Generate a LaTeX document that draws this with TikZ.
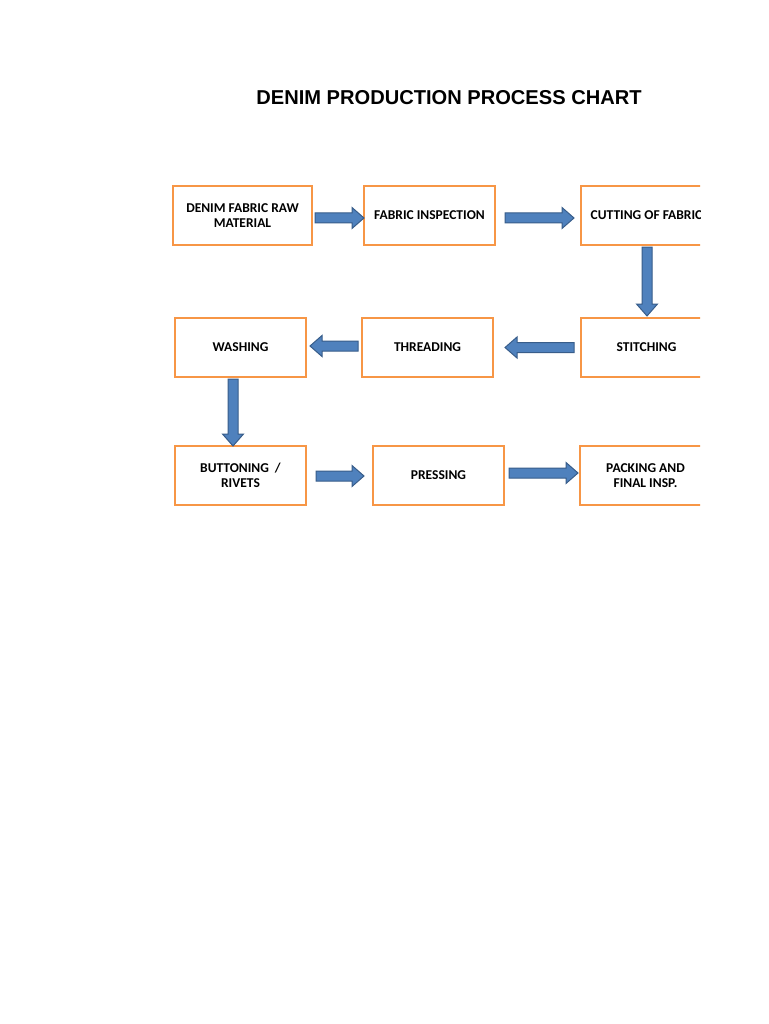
\documentclass[tikz,border=0pt]{standalone}
\usepackage{fontspec}
\setmainfont{Carlito}
\newfontfamily\titlefont{Liberation Sans}
\usepackage{tikz}
\usetikzlibrary{positioning,calc}
\definecolor{boxorange}{HTML}{F79646}
\definecolor{arrowblue}{HTML}{4F81BD}
\definecolor{arrowedge}{HTML}{385D8A}

\begin{document}
\begin{tikzpicture}[x=1pt,y=-1pt,
		process/.style={draw=boxorange,line width=2.4pt,fill=white,outer sep=0pt,
			minimum width=131pt,minimum height=59pt,align=center,inner sep=2pt,
			font=\bfseries\fontsize{13.5}{15}\selectfont},
		blockarrow/.style={draw=arrowedge,fill=arrowblue,line width=1pt,line join=miter,
			to path={($(\tikztotarget)!12pt!(\tikztostart)$) coordinate (ba-s)
				($(\tikztostart)!5pt!90:(\tikztotarget)$) -- ($(ba-s)!5pt!-90:(\tikztostart)$)
				-- ($(ba-s)!10.5pt!-90:(\tikztostart)$) -- (\tikztotarget)
				-- ($(ba-s)!10.5pt!90:(\tikztostart)$) -- ($(ba-s)!5pt!90:(\tikztostart)$)
				-- ($(\tikztostart)!5pt!-90:(\tikztotarget)$) -- cycle}}]
		\useasboundingbox[fill=white] (0,0) rectangle (768,1024);
		
		\node[font=\titlefont\bfseries\fontsize{20.1}{24}\selectfont] (title) at (449,98) {DENIM PRODUCTION PROCESS CHART};
		
		\begin{scope}
		\clip (0,0) rectangle (700,1024);
		
		\node[process,minimum width=139pt] (raw) at (242.5,215.5) {DENIM FABRIC RAW\\MATERIAL};
		\node[process] (inspect) [right=52pt of raw] {FABRIC INSPECTION};
		\node[process] (cutting) [right=86pt of inspect] {CUTTING OF FABRIC};
		
		\node[process] (washing) at (240.5,347.5) {WASHING};
		\node[process] (threading) [right=56pt of washing] {THREADING};
		\node[process] (stitching) [right=88pt of threading] {STITCHING};
		
		\node[process] (buttoning) at (240.5,475.5) {BUTTONING\ \ /\\RIVETS};
		\node[process] (pressing) [right=67pt of buttoning] {PRESSING};
		\node[process] (packing) [right=76pt of pressing] {PACKING AND\\FINAL INSP.};
		
		\draw[blockarrow] ([xshift=3pt,yshift=-2.5pt]raw.east) to ([yshift=-2.5pt]inspect.west);
		\draw[blockarrow] ([xshift=10pt,yshift=-2.5pt]inspect.east) to ([xshift=-7pt,yshift=-2.5pt]cutting.west);
		\draw[blockarrow] ([xshift=0.5pt,yshift=-2pt]cutting.south) to ([xshift=0.5pt,yshift=2pt]stitching.north);
		\draw[blockarrow] ([xshift=-7pt]stitching.west) to ([xshift=12pt]threading.east);
		\draw[blockarrow] ([xshift=-4pt,yshift=1.5pt]threading.west) to ([xshift=4pt,yshift=1.5pt]washing.east);
		\draw[blockarrow] ([xshift=-7.5pt,yshift=-2pt]washing.south) to ([xshift=-7.5pt]buttoning.north);
		\draw[blockarrow] ([xshift=10pt,yshift=-0.5pt]buttoning.east) to ([xshift=-9pt,yshift=-0.5pt]pressing.west);
		\draw[blockarrow] ([xshift=5pt,yshift=2.5pt]pressing.east) to ([xshift=-2pt,yshift=2.5pt]packing.west);
		\end{scope}
\end{tikzpicture}
\end{document}
